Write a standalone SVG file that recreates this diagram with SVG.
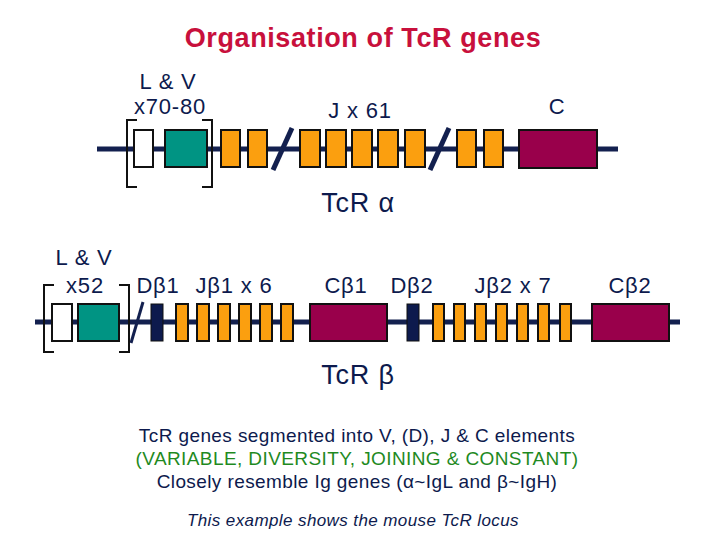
<svg xmlns="http://www.w3.org/2000/svg" width="728" height="546" viewBox="0 0 728 546">
<style>
text{font-family:"Liberation Sans",Arial,sans-serif;fill:#0d1a4d;text-anchor:middle}
.lbl{font-size:22px;letter-spacing:0.8px}
.big{font-size:27px;letter-spacing:0.8px}
.note{font-size:19px;letter-spacing:0.4px}
.j{fill:#fb9f0f;stroke:#111;stroke-width:2}
.v{fill:#009483;stroke:#111;stroke-width:2}
.l{fill:#fff;stroke:#111;stroke-width:2}
.c{fill:#99004b;stroke:#111;stroke-width:2}
.d{fill:#0d1a4d;stroke:#111;stroke-width:1}
.ln{stroke:#13204f;stroke-width:5;fill:none}
.br{stroke:#111;stroke-width:2;fill:none}
</style>
<rect width="728" height="546" fill="#fff"/>
<text x="363" y="47" style="font-size:27px;letter-spacing:0.6px;font-weight:bold;fill:#c8103c">Organisation of TcR genes</text>
<g id="connectors">
<line class="ln" x1="97" y1="149" x2="618" y2="149"/>
<line class="ln" x1="273" y1="170" x2="292" y2="128"/>
<line class="ln" x1="430" y1="170" x2="449" y2="128"/>
<line class="ln" x1="35" y1="322" x2="680" y2="322"/>
<line class="ln" style="stroke-width:3" x1="131" y1="343" x2="143" y2="302"/>
</g>
<g id="alpha">
<path class="br" d="M137 120H127V187H137M202 120H212V187H202"/>
<rect class="l" x="134" y="130" width="19" height="37"/>
<rect class="v" x="165" y="130" width="42" height="37"/>
<rect class="j" x="221" y="130" width="19" height="37"/>
<rect class="j" x="248" y="130" width="19" height="37"/>
<rect class="j" x="300" y="130" width="20" height="37"/>
<rect class="j" x="326" y="130" width="20" height="37"/>
<rect class="j" x="352" y="130" width="20" height="37"/>
<rect class="j" x="378" y="130" width="20" height="37"/>
<rect class="j" x="405" y="130" width="20" height="37"/>
<rect class="j" x="457" y="130" width="19" height="37"/>
<rect class="j" x="484" y="130" width="19" height="37"/>
<rect class="c" x="519" y="130" width="78" height="38"/>
<text class="lbl" x="168" y="89">L &amp; V</text>
<text class="lbl" x="170" y="114">x70-80</text>
<text class="lbl" x="360" y="118">J x 61</text>
<text class="lbl" x="557" y="114">C</text>
<text class="big" x="358" y="212">TcR α</text>
</g>
<g id="beta">
<path class="br" d="M54 285H44V352H54M119 285H129V352H119"/>
<rect class="l" x="52" y="304" width="20" height="37"/>
<rect class="v" x="78" y="304" width="41" height="37"/>
<rect class="d" x="151" y="304" width="12" height="37"/>
<rect class="j" x="176" y="304" width="12" height="37"/>
<rect class="j" x="197" y="304" width="12" height="37"/>
<rect class="j" x="218" y="304" width="12" height="37"/>
<rect class="j" x="239" y="304" width="12" height="37"/>
<rect class="j" x="260" y="304" width="12" height="37"/>
<rect class="j" x="281" y="304" width="12" height="37"/>
<rect class="c" x="310" y="304" width="77" height="37"/>
<rect class="d" x="407" y="304" width="12" height="37"/>
<rect class="j" x="433" y="304" width="11" height="37"/>
<rect class="j" x="454" y="304" width="11" height="37"/>
<rect class="j" x="475" y="304" width="11" height="37"/>
<rect class="j" x="496" y="304" width="11" height="37"/>
<rect class="j" x="517" y="304" width="11" height="37"/>
<rect class="j" x="538" y="304" width="11" height="37"/>
<rect class="j" x="560" y="304" width="11" height="37"/>
<rect class="c" x="592" y="304" width="77" height="37"/>
<text class="lbl" x="84" y="265">L &amp; V</text>
<text class="lbl" x="85" y="293">x52</text>
<text class="lbl" x="158" y="293">Dβ1</text>
<text class="lbl" x="234" y="293">Jβ1 x 6</text>
<text class="lbl" x="346" y="293">Cβ1</text>
<text class="lbl" x="412" y="293">Dβ2</text>
<text class="lbl" x="513" y="293">Jβ2 x 7</text>
<text class="lbl" x="630" y="293">Cβ2</text>
<text class="big" x="358" y="384">TcR β</text>
</g>
<g id="notes">
<text class="note" x="357" y="442">TcR genes segmented into V, (D), J &amp; C elements</text>
<text class="note" x="357" y="465" style="fill:#1f8a1f">(VARIABLE, DIVERSITY, JOINING &amp; CONSTANT)</text>
<text class="note" x="357" y="488">Closely resemble Ig genes (α~IgL and β~IgH)</text>
<text x="353" y="526" style="font-size:17px;letter-spacing:0.4px;font-style:italic">This example shows the mouse TcR locus</text>
</g>
</svg>
